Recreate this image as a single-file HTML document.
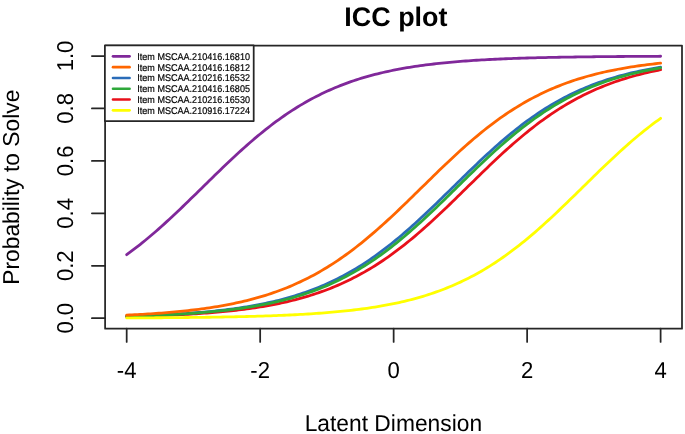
<!DOCTYPE html><html><head><meta charset="utf-8"><title>ICC plot</title><style>html,body{margin:0;padding:0;background:#fff;overflow:hidden}svg{display:block}text{font-family:"Liberation Sans",Arial,sans-serif;fill:#000;text-rendering:geometricPrecision}</style></head><body>
<svg width="685" height="434" viewBox="0 0 685 434">
<rect width="685" height="434" fill="#fff"/>
<polyline fill="none" stroke="#80289A" stroke-width="2.8" stroke-linecap="round" stroke-linejoin="round" points="126.69,254.66 129.36,252.72 132.03,250.73 134.70,248.71 137.37,246.65 140.04,244.55 142.71,242.41 145.38,240.24 148.05,238.03 150.72,235.79 153.39,233.51 156.06,231.20 158.73,228.86 161.39,226.49 164.06,224.09 166.73,221.66 169.40,219.21 172.07,216.73 174.74,214.23 177.41,211.71 180.08,209.17 182.75,206.62 185.42,204.05 188.09,201.46 190.76,198.87 193.43,196.26 196.10,193.65 198.77,191.03 201.44,188.41 204.11,185.79 206.78,183.17 209.45,180.55 212.12,177.94 214.79,175.33 217.46,172.74 220.13,170.15 222.80,167.58 225.47,165.03 228.13,162.49 230.80,159.97 233.47,157.47 236.14,154.99 238.81,152.54 241.48,150.11 244.15,147.71 246.82,145.34 249.49,143.00 252.16,140.69 254.83,138.41 257.50,136.17 260.17,133.96 262.84,131.79 265.51,129.65 268.18,127.55 270.85,125.49 273.52,123.47 276.19,121.48 278.86,119.54 281.53,117.63 284.20,115.76 286.87,113.94 289.54,112.15 292.21,110.41 294.87,108.70 297.54,107.04 300.21,105.42 302.88,103.83 305.55,102.29 308.22,100.78 310.89,99.32 313.56,97.89 316.23,96.50 318.90,95.15 321.57,93.84 324.24,92.56 326.91,91.32 329.58,90.11 332.25,88.94 334.92,87.81 337.59,86.71 340.26,85.64 342.93,84.61 345.60,83.60 348.27,82.63 350.94,81.69 353.61,80.78 356.28,79.89 358.95,79.04 361.61,78.21 364.28,77.41 366.95,76.64 369.62,75.89 372.29,75.17 374.96,74.47 377.63,73.79 380.30,73.14 382.97,72.51 385.64,71.90 388.31,71.32 390.98,70.75 393.65,70.20 396.32,69.67 398.99,69.17 401.66,68.67 404.33,68.20 407.00,67.74 409.67,67.30 412.34,66.88 415.01,66.47 417.68,66.07 420.35,65.69 423.02,65.33 425.69,64.97 428.35,64.63 431.02,64.31 433.69,63.99 436.36,63.69 439.03,63.39 441.70,63.11 444.37,62.84 447.04,62.58 449.71,62.33 452.38,62.08 455.05,61.85 457.72,61.63 460.39,61.41 463.06,61.20 465.73,61.00 468.40,60.81 471.07,60.62 473.74,60.45 476.41,60.27 479.08,60.11 481.75,59.95 484.42,59.80 487.09,59.65 489.76,59.51 492.43,59.37 495.09,59.24 497.76,59.12 500.43,59.00 503.10,58.88 505.77,58.77 508.44,58.66 511.11,58.56 513.78,58.46 516.45,58.36 519.12,58.27 521.79,58.18 524.46,58.10 527.13,58.02 529.80,57.94 532.47,57.86 535.14,57.79 537.81,57.72 540.48,57.65 543.15,57.59 545.82,57.53 548.49,57.47 551.16,57.41 553.83,57.36 556.50,57.30 559.17,57.25 561.83,57.20 564.50,57.16 567.17,57.11 569.84,57.07 572.51,57.03 575.18,56.99 577.85,56.95 580.52,56.91 583.19,56.87 585.86,56.84 588.53,56.81 591.20,56.78 593.87,56.75 596.54,56.72 599.21,56.69 601.88,56.66 604.55,56.64 607.22,56.61 609.89,56.59 612.56,56.56 615.23,56.54 617.90,56.52 620.57,56.50 623.24,56.48 625.91,56.46 628.57,56.44 631.24,56.43 633.91,56.41 636.58,56.39 639.25,56.38 641.92,56.36 644.59,56.35 647.26,56.34 649.93,56.32 652.60,56.31 655.27,56.30 657.94,56.29 660.61,56.27"/>
<polyline fill="none" stroke="#2A6CB8" stroke-width="2.8" stroke-linecap="round" stroke-linejoin="round" points="126.69,316.24 129.36,316.16 132.03,316.08 134.70,316.00 137.37,315.91 140.04,315.81 142.71,315.72 145.38,315.62 148.05,315.51 150.72,315.40 153.39,315.29 156.06,315.17 158.73,315.05 161.39,314.92 164.06,314.79 166.73,314.66 169.40,314.51 172.07,314.36 174.74,314.21 177.41,314.05 180.08,313.88 182.75,313.71 185.42,313.53 188.09,313.34 190.76,313.15 193.43,312.95 196.10,312.74 198.77,312.52 201.44,312.29 204.11,312.06 206.78,311.81 209.45,311.56 212.12,311.29 214.79,311.02 217.46,310.74 220.13,310.44 222.80,310.13 225.47,309.81 228.13,309.48 230.80,309.14 233.47,308.78 236.14,308.41 238.81,308.03 241.48,307.63 244.15,307.22 246.82,306.79 249.49,306.34 252.16,305.88 254.83,305.40 257.50,304.91 260.17,304.40 262.84,303.86 265.51,303.31 268.18,302.74 270.85,302.15 273.52,301.53 276.19,300.90 278.86,300.24 281.53,299.56 284.20,298.85 286.87,298.13 289.54,297.37 292.21,296.59 294.87,295.78 297.54,294.95 300.21,294.09 302.88,293.20 305.55,292.28 308.22,291.33 310.89,290.35 313.56,289.34 316.23,288.30 318.90,287.22 321.57,286.11 324.24,284.97 326.91,283.79 329.58,282.57 332.25,281.32 334.92,280.04 337.59,278.72 340.26,277.36 342.93,275.96 345.60,274.52 348.27,273.04 350.94,271.53 353.61,269.98 356.28,268.38 358.95,266.75 361.61,265.07 364.28,263.36 366.95,261.60 369.62,259.81 372.29,257.97 374.96,256.10 377.63,254.18 380.30,252.23 382.97,250.23 385.64,248.20 388.31,246.13 390.98,244.02 393.65,241.87 396.32,239.69 398.99,237.47 401.66,235.22 404.33,232.93 407.00,230.62 409.67,228.27 412.34,225.89 415.01,223.48 417.68,221.05 420.35,218.59 423.02,216.11 425.69,213.61 428.35,211.08 431.02,208.54 433.69,205.98 436.36,203.40 439.03,200.82 441.70,198.22 444.37,195.61 447.04,193.00 449.71,190.38 452.38,187.76 455.05,185.13 457.72,182.51 460.39,179.90 463.06,177.29 465.73,174.68 468.40,172.09 471.07,169.51 473.74,166.94 476.41,164.39 479.08,161.85 481.75,159.34 484.42,156.85 487.09,154.38 489.76,151.93 492.43,149.51 495.09,147.12 497.76,144.75 500.43,142.42 503.10,140.12 505.77,137.85 508.44,135.62 511.11,133.42 513.78,131.25 516.45,129.12 519.12,127.03 521.79,124.98 524.46,122.97 527.13,120.99 529.80,119.06 532.47,117.16 535.14,115.30 537.81,113.49 540.48,111.71 543.15,109.98 545.82,108.28 548.49,106.63 551.16,105.02 553.83,103.44 556.50,101.91 559.17,100.41 561.83,98.96 564.50,97.54 567.17,96.16 569.84,94.82 572.51,93.51 575.18,92.25 577.85,91.01 580.52,89.82 583.19,88.66 585.86,87.53 588.53,86.44 591.20,85.38 593.87,84.35 596.54,83.36 599.21,82.39 601.88,81.46 604.55,80.55 607.22,79.68 609.89,78.83 612.56,78.01 615.23,77.22 617.90,76.45 620.57,75.71 623.24,74.99 625.91,74.30 628.57,73.63 631.24,72.98 633.91,72.36 636.58,71.75 639.25,71.17 641.92,70.61 644.59,70.07 647.26,69.55 649.93,69.04 652.60,68.55 655.27,68.08 657.94,67.63 660.61,67.20"/>
<polyline fill="none" stroke="#E8101A" stroke-width="2.8" stroke-linecap="round" stroke-linejoin="round" points="126.69,316.62 129.36,316.55 132.03,316.49 134.70,316.42 137.37,316.35 140.04,316.27 142.71,316.19 145.38,316.11 148.05,316.03 150.72,315.94 153.39,315.85 156.06,315.75 158.73,315.65 161.39,315.55 164.06,315.44 166.73,315.33 169.40,315.22 172.07,315.10 174.74,314.97 177.41,314.84 180.08,314.71 182.75,314.57 185.42,314.42 188.09,314.27 190.76,314.11 193.43,313.95 196.10,313.78 198.77,313.60 201.44,313.41 204.11,313.22 206.78,313.02 209.45,312.82 212.12,312.60 214.79,312.38 217.46,312.15 220.13,311.90 222.80,311.65 225.47,311.39 228.13,311.12 230.80,310.84 233.47,310.55 236.14,310.25 238.81,309.93 241.48,309.61 244.15,309.27 246.82,308.92 249.49,308.55 252.16,308.17 254.83,307.78 257.50,307.37 260.17,306.95 262.84,306.51 265.51,306.06 268.18,305.59 270.85,305.10 273.52,304.59 276.19,304.06 278.86,303.52 281.53,302.96 284.20,302.37 286.87,301.77 289.54,301.14 292.21,300.49 294.87,299.82 297.54,299.12 300.21,298.40 302.88,297.66 305.55,296.89 308.22,296.09 310.89,295.27 313.56,294.42 316.23,293.54 318.90,292.63 321.57,291.69 324.24,290.72 326.91,289.72 329.58,288.69 332.25,287.63 334.92,286.53 337.59,285.40 340.26,284.23 342.93,283.03 345.60,281.80 348.27,280.53 350.94,279.22 353.61,277.87 356.28,276.49 358.95,275.06 361.61,273.60 364.28,272.10 366.95,270.56 369.62,268.98 372.29,267.36 374.96,265.71 377.63,264.01 380.30,262.27 382.97,260.49 385.64,258.67 388.31,256.80 390.98,254.90 393.65,252.96 396.32,250.98 398.99,248.96 401.66,246.91 404.33,244.81 407.00,242.68 409.67,240.51 412.34,238.31 415.01,236.07 417.68,233.79 420.35,231.49 423.02,229.15 425.69,226.79 428.35,224.39 431.02,221.97 433.69,219.52 436.36,217.04 439.03,214.55 441.70,212.03 444.37,209.49 447.04,206.94 449.71,204.37 452.38,201.79 455.05,199.19 457.72,196.59 460.39,193.98 463.06,191.36 465.73,188.74 468.40,186.12 471.07,183.50 473.74,180.88 476.41,178.26 479.08,175.66 481.75,173.06 484.42,170.47 487.09,167.90 489.76,165.34 492.43,162.80 495.09,160.28 497.76,157.78 500.43,155.30 503.10,152.84 505.77,150.41 508.44,148.01 511.11,145.64 513.78,143.29 516.45,140.98 519.12,138.70 521.79,136.45 524.46,134.24 527.13,132.06 529.80,129.92 532.47,127.81 535.14,125.75 537.81,123.72 540.48,121.73 543.15,119.78 545.82,117.87 548.49,116.00 551.16,114.17 553.83,112.38 556.50,110.63 559.17,108.92 561.83,107.25 564.50,105.62 567.17,104.03 569.84,102.48 572.51,100.97 575.18,99.50 577.85,98.07 580.52,96.67 583.19,95.32 585.86,94.00 588.53,92.72 591.20,91.47 593.87,90.26 596.54,89.09 599.21,87.95 601.88,86.84 604.55,85.77 607.22,84.73 609.89,83.73 612.56,82.75 615.23,81.80 617.90,80.89 620.57,80.00 623.24,79.14 625.91,78.31 628.57,77.51 631.24,76.73 633.91,75.98 636.58,75.26 639.25,74.55 641.92,73.88 644.59,73.22 647.26,72.59 649.93,71.98 652.60,71.39 655.27,70.82 657.94,70.27 660.61,69.74"/>
<polyline fill="none" stroke="#2EA83A" stroke-width="2.8" stroke-linecap="round" stroke-linejoin="round" points="126.69,316.36 129.36,316.28 132.03,316.21 134.70,316.13 137.37,316.04 140.04,315.96 142.71,315.86 145.38,315.77 148.05,315.67 150.72,315.57 153.39,315.46 156.06,315.35 158.73,315.24 161.39,315.12 164.06,314.99 166.73,314.87 169.40,314.73 172.07,314.59 174.74,314.45 177.41,314.30 180.08,314.14 182.75,313.98 185.42,313.81 188.09,313.63 190.76,313.45 193.43,313.26 196.10,313.06 198.77,312.85 201.44,312.64 204.11,312.42 206.78,312.19 209.45,311.95 212.12,311.70 214.79,311.44 217.46,311.17 220.13,310.89 222.80,310.60 225.47,310.30 228.13,309.99 230.80,309.67 233.47,309.33 236.14,308.98 238.81,308.62 241.48,308.24 244.15,307.85 246.82,307.45 249.49,307.03 252.16,306.59 254.83,306.14 257.50,305.67 260.17,305.18 262.84,304.68 265.51,304.16 268.18,303.62 270.85,303.06 273.52,302.47 276.19,301.87 278.86,301.25 281.53,300.60 284.20,299.94 286.87,299.24 289.54,298.53 292.21,297.79 294.87,297.02 297.54,296.23 300.21,295.41 302.88,294.57 305.55,293.69 308.22,292.79 310.89,291.86 313.56,290.89 316.23,289.90 318.90,288.87 321.57,287.82 324.24,286.72 326.91,285.60 329.58,284.44 332.25,283.25 334.92,282.02 337.59,280.75 340.26,279.45 342.93,278.11 345.60,276.73 348.27,275.32 350.94,273.86 353.61,272.37 356.28,270.84 358.95,269.26 361.61,267.65 364.28,266.00 366.95,264.31 369.62,262.57 372.29,260.80 374.96,258.99 377.63,257.13 380.30,255.24 382.97,253.31 385.64,251.33 388.31,249.32 390.98,247.27 393.65,245.18 396.32,243.06 398.99,240.89 401.66,238.70 404.33,236.46 407.00,234.19 409.67,231.90 412.34,229.56 415.01,227.20 417.68,224.81 420.35,222.39 423.02,219.95 425.69,217.48 428.35,214.99 431.02,212.47 433.69,209.94 436.36,207.39 439.03,204.82 441.70,202.24 444.37,199.65 447.04,197.04 449.71,194.43 452.38,191.82 455.05,189.20 457.72,186.58 460.39,183.95 463.06,181.34 465.73,178.72 468.40,176.11 471.07,173.51 473.74,170.93 476.41,168.35 479.08,165.79 481.75,163.25 484.42,160.72 487.09,158.22 489.76,155.73 492.43,153.27 495.09,150.84 497.76,148.43 500.43,146.05 503.10,143.70 505.77,141.38 508.44,139.09 511.11,136.84 513.78,134.62 516.45,132.44 519.12,130.29 521.79,128.18 524.46,126.10 527.13,124.07 529.80,122.07 532.47,120.12 535.14,118.20 537.81,116.32 540.48,114.48 543.15,112.69 545.82,110.93 548.49,109.21 551.16,107.54 553.83,105.90 556.50,104.30 559.17,102.75 561.83,101.23 564.50,99.75 567.17,98.31 569.84,96.91 572.51,95.55 575.18,94.23 577.85,92.94 580.52,91.69 583.19,90.47 585.86,89.29 588.53,88.15 591.20,87.04 593.87,85.96 596.54,84.91 599.21,83.90 601.88,82.92 604.55,81.97 607.22,81.05 609.89,80.15 612.56,79.29 615.23,78.46 617.90,77.65 620.57,76.87 623.24,76.11 625.91,75.38 628.57,74.68 631.24,73.99 633.91,73.33 636.58,72.70 639.25,72.08 641.92,71.49 644.59,70.92 647.26,70.36 649.93,69.83 652.60,69.32 655.27,68.82 657.94,68.34 660.61,67.88"/>
<polyline fill="none" stroke="#FFFF00" stroke-width="2.8" stroke-linecap="round" stroke-linejoin="round" points="126.69,317.92 129.36,317.91 132.03,317.89 134.70,317.88 137.37,317.87 140.04,317.86 142.71,317.84 145.38,317.83 148.05,317.81 150.72,317.80 153.39,317.78 156.06,317.76 158.73,317.75 161.39,317.73 164.06,317.71 166.73,317.69 169.40,317.67 172.07,317.64 174.74,317.62 177.41,317.60 180.08,317.57 182.75,317.55 185.42,317.52 188.09,317.49 190.76,317.47 193.43,317.44 196.10,317.40 198.77,317.37 201.44,317.34 204.11,317.30 206.78,317.27 209.45,317.23 212.12,317.19 214.79,317.15 217.46,317.11 220.13,317.06 222.80,317.02 225.47,316.97 228.13,316.92 230.80,316.86 233.47,316.81 236.14,316.75 238.81,316.70 241.48,316.63 244.15,316.57 246.82,316.51 249.49,316.44 252.16,316.36 254.83,316.29 257.50,316.21 260.17,316.13 262.84,316.05 265.51,315.96 268.18,315.87 270.85,315.78 273.52,315.68 276.19,315.58 278.86,315.47 281.53,315.36 284.20,315.25 286.87,315.13 289.54,315.00 292.21,314.88 294.87,314.74 297.54,314.60 300.21,314.46 302.88,314.31 305.55,314.15 308.22,313.99 310.89,313.82 313.56,313.64 316.23,313.46 318.90,313.27 321.57,313.07 324.24,312.87 326.91,312.66 329.58,312.43 332.25,312.20 334.92,311.97 337.59,311.72 340.26,311.46 342.93,311.19 345.60,310.91 348.27,310.63 350.94,310.33 353.61,310.01 356.28,309.69 358.95,309.36 361.61,309.01 364.28,308.65 366.95,308.27 369.62,307.88 372.29,307.48 374.96,307.06 377.63,306.62 380.30,306.17 382.97,305.71 385.64,305.22 388.31,304.72 390.98,304.20 393.65,303.66 396.32,303.10 398.99,302.52 401.66,301.92 404.33,301.30 407.00,300.65 409.67,299.99 412.34,299.30 415.01,298.58 417.68,297.85 420.35,297.08 423.02,296.29 425.69,295.48 428.35,294.63 431.02,293.76 433.69,292.86 436.36,291.93 439.03,290.97 441.70,289.97 444.37,288.95 447.04,287.90 449.71,286.81 452.38,285.68 455.05,284.53 457.72,283.34 460.39,282.11 463.06,280.85 465.73,279.55 468.40,278.21 471.07,276.84 473.74,275.42 476.41,273.97 479.08,272.48 481.75,270.95 484.42,269.38 487.09,267.77 489.76,266.12 492.43,264.43 495.09,262.71 497.76,260.93 500.43,259.12 503.10,257.27 505.77,255.38 508.44,253.45 511.11,251.48 513.78,249.47 516.45,247.43 519.12,245.34 521.79,243.22 524.46,241.06 527.13,238.86 529.80,236.63 532.47,234.37 535.14,232.07 537.81,229.74 540.48,227.38 543.15,224.99 545.82,222.57 548.49,220.13 551.16,217.66 553.83,215.17 556.50,212.66 559.17,210.13 561.83,207.58 564.50,205.01 567.17,202.43 569.84,199.84 572.51,197.24 575.18,194.63 577.85,192.01 580.52,189.39 583.19,186.77 585.86,184.15 588.53,181.53 591.20,178.92 593.87,176.31 596.54,173.71 599.21,171.12 601.88,168.54 604.55,165.98 607.22,163.44 609.89,160.91 612.56,158.40 615.23,155.92 617.90,153.46 620.57,151.02 623.24,148.61 625.91,146.23 628.57,143.88 631.24,141.55 633.91,139.26 636.58,137.01 639.25,134.79 641.92,132.60 644.59,130.45 647.26,128.34 649.93,126.26 652.60,124.22 655.27,122.22 657.94,120.26 660.61,118.34"/>
<polyline fill="none" stroke="#FF6600" stroke-width="2.8" stroke-linecap="round" stroke-linejoin="round" points="126.69,315.10 129.36,314.98 132.03,314.85 134.70,314.71 137.37,314.57 140.04,314.43 142.71,314.28 145.38,314.12 148.05,313.95 150.72,313.78 153.39,313.61 156.06,313.42 158.73,313.23 161.39,313.03 164.06,312.83 166.73,312.61 169.40,312.39 172.07,312.16 174.74,311.92 177.41,311.67 180.08,311.41 182.75,311.14 185.42,310.86 188.09,310.57 190.76,310.26 193.43,309.95 196.10,309.62 198.77,309.29 201.44,308.94 204.11,308.57 206.78,308.19 209.45,307.80 212.12,307.39 214.79,306.97 217.46,306.53 220.13,306.08 222.80,305.61 225.47,305.12 228.13,304.62 230.80,304.09 233.47,303.55 236.14,302.98 238.81,302.40 241.48,301.80 244.15,301.17 246.82,300.52 249.49,299.85 252.16,299.16 254.83,298.44 257.50,297.69 260.17,296.93 262.84,296.13 265.51,295.31 268.18,294.46 270.85,293.58 273.52,292.67 276.19,291.74 278.86,290.77 281.53,289.77 284.20,288.74 286.87,287.68 289.54,286.59 292.21,285.46 294.87,284.29 297.54,283.09 300.21,281.86 302.88,280.59 305.55,279.28 308.22,277.94 310.89,276.56 313.56,275.14 316.23,273.68 318.90,272.18 321.57,270.64 324.24,269.06 326.91,267.45 329.58,265.79 332.25,264.09 334.92,262.35 337.59,260.58 340.26,258.76 342.93,256.90 345.60,255.00 348.27,253.06 350.94,251.08 353.61,249.07 356.28,247.01 358.95,244.92 361.61,242.79 364.28,240.62 366.95,238.42 369.62,236.18 372.29,233.91 374.96,231.61 377.63,229.27 380.30,226.90 382.97,224.51 385.64,222.09 388.31,219.64 390.98,217.17 393.65,214.67 396.32,212.16 398.99,209.62 401.66,207.07 404.33,204.50 407.00,201.92 409.67,199.32 412.34,196.72 415.01,194.11 417.68,191.49 420.35,188.87 423.02,186.25 425.69,183.63 428.35,181.01 431.02,178.39 433.69,175.79 436.36,173.19 439.03,170.60 441.70,168.03 444.37,165.47 447.04,162.93 449.71,160.41 452.38,157.90 455.05,155.42 457.72,152.97 460.39,150.53 463.06,148.13 465.73,145.75 468.40,143.41 471.07,141.09 473.74,138.81 476.41,136.56 479.08,134.35 481.75,132.17 484.42,130.02 487.09,127.92 489.76,125.85 492.43,123.82 495.09,121.83 497.76,119.87 500.43,117.96 503.10,116.09 505.77,114.26 508.44,112.46 511.11,110.71 513.78,109.00 516.45,107.33 519.12,105.70 521.79,104.11 524.46,102.55 527.13,101.04 529.80,99.57 532.47,98.14 535.14,96.74 537.81,95.38 540.48,94.06 543.15,92.78 545.82,91.53 548.49,90.32 551.16,89.15 553.83,88.01 556.50,86.90 559.17,85.83 561.83,84.78 564.50,83.77 567.17,82.80 569.84,81.85 572.51,80.93 575.18,80.04 577.85,79.19 580.52,78.35 583.19,77.55 585.86,76.77 588.53,76.02 591.20,75.29 593.87,74.59 596.54,73.91 599.21,73.25 601.88,72.62 604.55,72.01 607.22,71.42 609.89,70.85 612.56,70.30 615.23,69.77 617.90,69.25 620.57,68.76 623.24,68.28 625.91,67.82 628.57,67.38 631.24,66.95 633.91,66.54 636.58,66.14 639.25,65.76 641.92,65.39 644.59,65.03 647.26,64.69 649.93,64.36 652.60,64.04 655.27,63.74 657.94,63.44 660.61,63.16"/>
<rect x="105.1" y="45.5" width="576.90" height="283.20" fill="none" stroke="#262626" stroke-width="1.75" stroke-linecap="round" stroke-linejoin="round"/>
<line x1="126.69" y1="328.7" x2="126.69" y2="341.90" stroke="#262626" stroke-width="1.75" stroke-linecap="round" stroke-linejoin="round"/>
<text transform="translate(126.69,377.60) scale(1,1.04)" font-size="22.1" text-anchor="middle">-4</text>
<line x1="260.17" y1="328.7" x2="260.17" y2="341.90" stroke="#262626" stroke-width="1.75" stroke-linecap="round" stroke-linejoin="round"/>
<text transform="translate(260.17,377.60) scale(1,1.04)" font-size="22.1" text-anchor="middle">-2</text>
<line x1="393.65" y1="328.7" x2="393.65" y2="341.90" stroke="#262626" stroke-width="1.75" stroke-linecap="round" stroke-linejoin="round"/>
<text transform="translate(393.65,377.60) scale(1,1.04)" font-size="22.1" text-anchor="middle">0</text>
<line x1="527.13" y1="328.7" x2="527.13" y2="341.90" stroke="#262626" stroke-width="1.75" stroke-linecap="round" stroke-linejoin="round"/>
<text transform="translate(527.13,377.60) scale(1,1.04)" font-size="22.1" text-anchor="middle">2</text>
<line x1="660.61" y1="328.7" x2="660.61" y2="341.90" stroke="#262626" stroke-width="1.75" stroke-linecap="round" stroke-linejoin="round"/>
<text transform="translate(660.61,377.60) scale(1,1.04)" font-size="22.1" text-anchor="middle">4</text>
<line x1="91.90" y1="318.20" x2="105.1" y2="318.20" stroke="#262626" stroke-width="1.75" stroke-linecap="round" stroke-linejoin="round"/>
<text transform="translate(72.50,318.20) rotate(-90) scale(1,1.04)" font-size="22.1" text-anchor="middle">0.0</text>
<line x1="91.90" y1="265.76" x2="105.1" y2="265.76" stroke="#262626" stroke-width="1.75" stroke-linecap="round" stroke-linejoin="round"/>
<text transform="translate(72.50,265.76) rotate(-90) scale(1,1.04)" font-size="22.1" text-anchor="middle">0.2</text>
<line x1="91.90" y1="213.32" x2="105.1" y2="213.32" stroke="#262626" stroke-width="1.75" stroke-linecap="round" stroke-linejoin="round"/>
<text transform="translate(72.50,213.32) rotate(-90) scale(1,1.04)" font-size="22.1" text-anchor="middle">0.4</text>
<line x1="91.90" y1="160.88" x2="105.1" y2="160.88" stroke="#262626" stroke-width="1.75" stroke-linecap="round" stroke-linejoin="round"/>
<text transform="translate(72.50,160.88) rotate(-90) scale(1,1.04)" font-size="22.1" text-anchor="middle">0.6</text>
<line x1="91.90" y1="108.44" x2="105.1" y2="108.44" stroke="#262626" stroke-width="1.75" stroke-linecap="round" stroke-linejoin="round"/>
<text transform="translate(72.50,108.44) rotate(-90) scale(1,1.04)" font-size="22.1" text-anchor="middle">0.8</text>
<line x1="91.90" y1="56.00" x2="105.1" y2="56.00" stroke="#262626" stroke-width="1.75" stroke-linecap="round" stroke-linejoin="round"/>
<text transform="translate(72.50,56.00) rotate(-90) scale(1,1.04)" font-size="22.1" text-anchor="middle">1.0</text>
<text transform="translate(395.90,25.60)" font-size="26.9" font-weight="bold" text-anchor="middle">ICC plot</text>
<text transform="translate(393.35,431.40) scale(1,1.01)" font-size="22.8" text-anchor="middle">Latent Dimension</text>
<text transform="translate(18.90,187.20) rotate(-90) scale(1,1.01)" font-size="22.8" text-anchor="middle">Probability to Solve</text>
<rect x="104.9" y="45.4" width="148.80" height="75.60" fill="#fff" stroke="#262626" stroke-width="1.75" stroke-linecap="round" stroke-linejoin="round"/>
<line x1="113.0" y1="56.35" x2="129.6" y2="56.35" stroke="#80289A" stroke-width="2.6" stroke-linecap="round"/>
<text transform="translate(137.30,59.80) scale(1,1.08)" font-size="9.05" stroke="#000" stroke-width="0.18">Item MSCAA.210416.16810</text>
<line x1="113.0" y1="67.15" x2="129.6" y2="67.15" stroke="#FF6600" stroke-width="2.6" stroke-linecap="round"/>
<text transform="translate(137.30,70.60) scale(1,1.08)" font-size="9.05" stroke="#000" stroke-width="0.18">Item MSCAA.210416.16812</text>
<line x1="113.0" y1="77.95" x2="129.6" y2="77.95" stroke="#2A6CB8" stroke-width="2.6" stroke-linecap="round"/>
<text transform="translate(137.30,81.40) scale(1,1.08)" font-size="9.05" stroke="#000" stroke-width="0.18">Item MSCAA.210216.16532</text>
<line x1="113.0" y1="88.75" x2="129.6" y2="88.75" stroke="#2EA83A" stroke-width="2.6" stroke-linecap="round"/>
<text transform="translate(137.30,92.20) scale(1,1.08)" font-size="9.05" stroke="#000" stroke-width="0.18">Item MSCAA.210416.16805</text>
<line x1="113.0" y1="99.55" x2="129.6" y2="99.55" stroke="#E8101A" stroke-width="2.6" stroke-linecap="round"/>
<text transform="translate(137.30,103.00) scale(1,1.08)" font-size="9.05" stroke="#000" stroke-width="0.18">Item MSCAA.210216.16530</text>
<line x1="113.0" y1="110.35" x2="129.6" y2="110.35" stroke="#FFFF00" stroke-width="2.6" stroke-linecap="round"/>
<text transform="translate(137.30,113.80) scale(1,1.08)" font-size="9.05" stroke="#000" stroke-width="0.18">Item MSCAA.210916.17224</text>
</svg></body></html>
